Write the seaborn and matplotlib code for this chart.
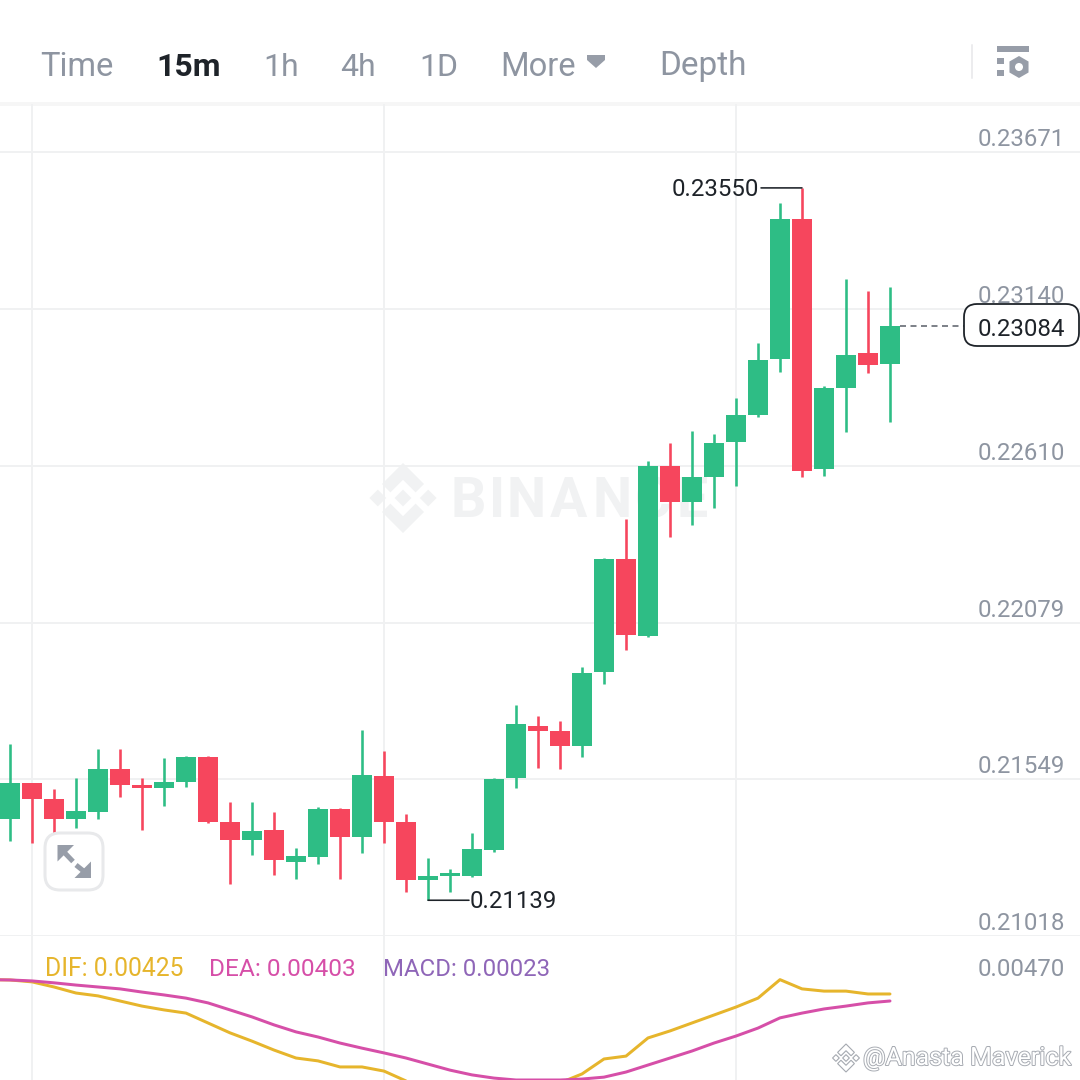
import numpy as np
import pandas as pd
import matplotlib
matplotlib.use("Agg")
import matplotlib.pyplot as plt
import matplotlib.patheffects as pe
from matplotlib.patches import FancyBboxPatch, Polygon, Rectangle, Circle, RegularPolygon
import seaborn as sns

# ---------- data (prices in units of 0.00001) ----------
open_ = [21414,21536,21482,21414,21438,21584,21529,21519,21540,21624,21404,21343,21377,21269,21286,21448,21353,21560,21404,21208,21221,
         21221,21309,21553,21729,21712,21661,21912,22295,22034,22610,22488,22572,22691,22782,22972,23446,22599,22874,22992,22955]
close = [21536,21482,21414,21441,21584,21529,21519,21540,21624,21404,21343,21374,21275,21289,21448,21353,21563,21404,21208,21221,21231,
         21313,21550,21736,21712,21661,21909,22295,22037,22610,22488,22572,22688,22782,22969,23446,22593,22874,22986,22952,23084]
high = [21668,21536,21516,21553,21651,21651,21553,21621,21628,21628,21472,21472,21438,21316,21455,21451,21716,21644,21431,21282,21245,
        21367,21553,21800,21763,21746,21929,22298,22430,22627,22688,22728,22718,22840,23026,23500,23550,22881,23243,23202,23216]
low = [21340,21333,21367,21384,21414,21489,21377,21458,21523,21401,21194,21292,21225,21211,21262,21211,21299,21333,21167,21139,21167,
       21218,21302,21519,21587,21584,21624,21871,21987,22031,22369,22410,22467,22542,22776,22928,22572,22576,22725,22925,22759]
# MACD lines, units 0.00001, first point lies just left of the frame
dif = [470,469,463,447,428,419,403,387,375,365,334,303,277,249,224,215,196,196,183,152,130,108,92,86,92,108,146,174,221,230,287,309,334,
       359,384,412,470,441,434,434,425,425]
dea = [470,469,466,460,453,447,441,431,422,412,397,375,353,328,306,290,271,255,240,224,205,186,171,161,155,155,155,158,164,180,202,224,
       246,271,293,318,350,365,378,387,397,403]
price_ticks = ["0.23671", "0.23140", "0.22610", "0.22079", "0.21549", "0.21018"]
tabs = ["Time", "15m", "1h", "4h", "1D", "More", "Depth"]
time_grid = [1, 17, 33]

UP, DOWN = "#2ebd85", "#f6465d"
YEL, MAG, PUR = "#e6b52c", "#d64fa8", "#8f66b8"
GRID, GREY, DARK = "#f0f1f2", "#8e95a1", "#1e2329"
FONT = ["Roboto", "DejaVu Sans"]
PX = 0.72

sns.set_theme(style="white")
plt.rcParams["font.family"] = FONT

fig = plt.figure(figsize=(10.8, 10.8), dpi=100, facecolor="white")
def px_axes(z):
    a = fig.add_axes([0, 0, 1, 1], zorder=z, facecolor="none")
    a.set_xlim(0, 1080); a.set_ylim(1080, 0); a.axis("off")
    return a
under = px_axes(0)
over = px_axes(5)

ax = fig.add_axes([0, 144/1080, 1, 832/1080], zorder=1, facecolor="none")
ax2 = fig.add_axes([0, 0, 1, 144/1080], zorder=1, facecolor="none")
for a in (ax, ax2):
    a.set_xlim(-10/22, 1070/22)
    for s in a.spines.values():
        s.set_visible(False)
    a.set_xticks(time_grid); a.tick_params(length=0, labelbottom=False, labelleft=False)
    a.grid(True, axis="x", color=GRID, lw=2*PX, zorder=0)
    a.set_xlabel(""); a.set_ylabel("")
ax.set_ylim(0.21018, 0.23834)
ax2.set_ylim(0.00155, 0.00607)

# ---------- price panel ----------
tick_vals = [float(t) for t in price_ticks]
ax.set_yticks(tick_vals)
ax.grid(True, axis="y", color=GRID, lw=2*PX, zorder=0)

o, c, h, l = [np.array(v) / 1e5 for v in (open_, close, high, low)]
idx = np.arange(len(o))
cols = [UP if cc >= oo else DOWN for oo, cc in zip(o, c)]
ax.vlines(idx, l, h, colors=cols, lw=2.6*PX, zorder=3)
ax.bar(idx, np.abs(c - o), bottom=np.minimum(o, c), width=0.88, color=cols, zorder=4, linewidth=0)

for t, v in zip(price_ticks, tick_vals):
    ax.annotate(t, xy=(1, v), xycoords=ax.get_yaxis_transform(), xytext=(-15*PX, 1*PX),
                textcoords="offset points", ha="right", va="bottom", color=GREY, fontsize=17.3, zorder=2)

# extremes: label plus a level leader line from the wick tip
hi_i, lo_i = int(np.argmax(h)), int(np.argmin(l))
ax.annotate(f"{h[hi_i]:.5f}", xy=(hi_i, h[hi_i]), xytext=(-43*PX, -1.5*PX), textcoords="offset points",
            ha="right", va="center", color=DARK, fontsize=17.3)
ax.annotate("", xy=(hi_i, h[hi_i]), xytext=(-41*PX, 0), textcoords="offset points",
            arrowprops=dict(arrowstyle="-", color=DARK, lw=1.6*PX, shrinkA=0, shrinkB=0))
ax.annotate(f"{l[lo_i]:.5f}", xy=(lo_i, l[lo_i]), xytext=(42*PX, -1.5*PX), textcoords="offset points",
            ha="left", va="center", color=DARK, fontsize=17.3)
ax.annotate("", xy=(lo_i, l[lo_i]), xytext=(41*PX, 0), textcoords="offset points",
            arrowprops=dict(arrowstyle="-", color=DARK, lw=1.6*PX, shrinkA=0, shrinkB=0))

# current price
ax.hlines(c[-1], idx[-1] + 0.45, 952/22 - 0.02 + 0.45, colors="#555b64", lw=1.5*PX, linestyles=(0, (4, 3)), zorder=3)
over.add_patch(FancyBboxPatch((975, 315), 93, 20, boxstyle="round,pad=11,rounding_size=13",
                              fc="white", ec=DARK, lw=1.8*PX))
over.text(1065, 329, f"{c[-1]:.5f}", ha="right", va="center", color=DARK, fontsize=17.3)

# ---------- MACD panel ----------
macd_df = pd.DataFrame({"i": np.arange(-1, len(o)), "DIF": np.array(dif)/1e5, "DEA": np.array(dea)/1e5})
sns.lineplot(data=macd_df, x="i", y="DIF", ax=ax2, color=YEL, lw=3*PX, estimator=None, sort=False, legend=False, zorder=3)
sns.lineplot(data=macd_df, x="i", y="DEA", ax=ax2, color=MAG, lw=3*PX, estimator=None, sort=False, legend=False, zorder=4)
ax2.set_xlabel(""); ax2.set_ylabel("")
over.text(45, 969, "DIF: 0.00425", color=YEL, fontsize=17.8, ha="left", va="center")
over.text(209, 969, "DEA: 0.00403", color=MAG, fontsize=17.6, ha="left", va="center")
over.text(383, 969, "MACD: 0.00023", color=PUR, fontsize=17.3, ha="left", va="center")
over.text(1065, 969, "0.00470", color=GREY, fontsize=17.3, ha="right", va="center")

# ---------- header ----------
under.add_patch(Rectangle((0, 102), 1080, 3.5, fc="#f6f6f6", ec="none"))
tab_x = [40, 156, 263, 340, 419, 500, 659]
tab_fs = [23.5, 23, 23, 23, 23, 23.5, 24]
for t, x, fs in zip(tabs, tab_x, tab_fs):
    over.text(x, 75.5, t, ha="left", va="baseline", fontsize=fs,
              color=DARK if t == "15m" else GREY, fontweight="bold" if t == "15m" else "normal")
over.add_patch(Polygon([(587, 55), (605, 55), (605, 60), (596, 68), (587, 60)], fc="#979da8", ec="none"))
over.plot([972, 972], [45, 78], color="#ececee", lw=2*PX)
over.add_patch(Rectangle((997, 46), 32, 5.5, fc="#979da8", ec="none"))
over.add_patch(Rectangle((997, 58), 7, 6, fc="#979da8", ec="none"))
over.add_patch(Rectangle((997, 70), 7, 6, fc="#979da8", ec="none"))
over.add_patch(RegularPolygon((1019, 67), 6, radius=11, fc="#979da8", ec="none"))
over.add_patch(Circle((1019, 67), 4, fc="white", ec="none"))

# ---------- logos ----------
def logo(a, cx, cy, r, **kw):
    pts = [[(0,1),(.6,.4),(.36,.16),(0,.52),(-.36,.16),(-.6,.4)],
           [(0,-1),(.6,-.4),(.36,-.16),(0,-.52),(-.36,-.16),(-.6,-.4)],
           [(0,.24),(.24,0),(0,-.24),(-.24,0)],
           [(-.72,.24),(-.48,0),(-.72,-.24),(-.96,0)],
           [(.72,.24),(.96,0),(.72,-.24),(.48,0)]]
    for p in pts:
        a.add_patch(Polygon([(cx + r*x, cy - r*y) for x, y in p], **kw))

WM = "#f1f2f3"
logo(under, 403, 498, 35, fc=WM, ec="none")
wm_x = [450, 489, 507, 550, 592, 635, 677]
for ch, x in zip("BINANCE", wm_x):
    under.text(x, 517, ch, fontsize=40, fontweight="bold", color=WM, ha="left", va="baseline")

# corner credit
stroke = [pe.withStroke(linewidth=1.4, foreground="#a8acb3")]
logo(over, 846, 1058, 14, fc="white", ec="#a5a9b0", lw=0.8)
over.text(863, 1058, "@Anasta Maverick", color="white", fontsize=18, ha="left", va="center", path_effects=stroke)

# ---------- expand button ----------
over.add_patch(FancyBboxPatch((56, 844), 36, 35, boxstyle="round,pad=11,rounding_size=15",
                              fc="white", ec="#e8e9eb", lw=3*PX))
EX = "#979da8"
over.add_patch(Polygon([(57.5, 845), (74, 845), (57.5, 861.5)], fc=EX, ec="none"))
over.add_patch(Polygon([(91, 878), (74.5, 878), (91, 861.5)], fc=EX, ec="none"))
over.plot([62, 73], [850, 861.5], color=EX, lw=5*PX, solid_capstyle="butt")
over.plot([76, 86], [865, 873], color=EX, lw=5*PX, solid_capstyle="butt")

fig.savefig("out.png", dpi=100, facecolor="white")
